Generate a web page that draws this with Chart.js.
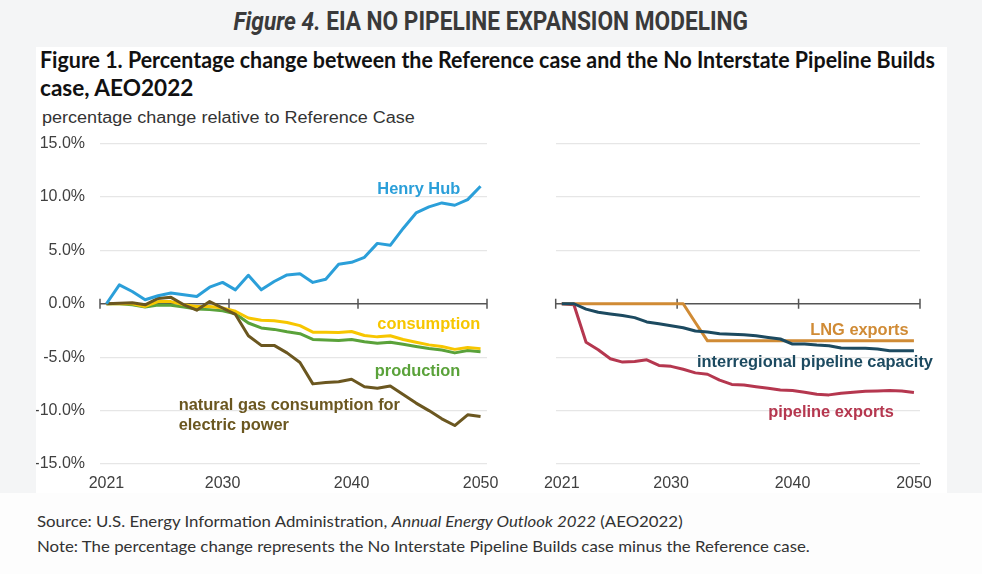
<!DOCTYPE html>
<html>
<head>
<meta charset="utf-8">
<script src="https://cdn.jsdelivr.net/npm/chart.js@4.4.1/dist/chart.umd.min.js"></script>
<style>
  body{margin:0;width:982px;height:574px;background:#f4f5f6;position:relative;overflow:hidden;font-family:"Liberation Sans",Arial,sans-serif;}
  .abs{position:absolute;white-space:nowrap;}
  .fit{display:inline-block;transform-origin:left center;}
  #panel{left:36px;top:47px;width:911px;height:446px;background:#fff;}
  #foot{left:0;top:493px;width:982px;height:81px;background:#fdfdfd;}
  #title{left:0;width:982px;top:8px;text-align:center;font:700 25px Roboto,sans-serif;color:#3a3a3a;line-height:28px;}
  #title .fit{transform-origin:center center;}
  #fig1{left:40px;top:46px;font:700 22px Lato,sans-serif;color:#111;line-height:28px;}
  #sub{left:42px;top:108px;font:16px "Liberation Sans",Arial,sans-serif;color:#333;line-height:20px;}
  #src{left:37px;top:511px;font:15px Lato,sans-serif;color:#333;line-height:20px;}
  #note{left:37px;top:536px;font:15px Lato,sans-serif;color:#333;line-height:20px;}
  canvas{position:absolute;}
</style>
</head>
<body>
<div class="abs" id="panel"></div>
<div class="abs" id="foot"></div>
<div class="abs" id="title"><span class="fit" data-fit="515"><i>Figure 4.</i> EIA NO PIPELINE EXPANSION MODELING</span></div>
<div class="abs" id="fig1"><span class="fit" data-fit="895">Figure 1. Percentage change between the Reference case and the No Interstate Pipeline Builds</span><br><span class="fit" data-fit="153">case, AEO2022</span></div>
<div class="abs" id="sub"><span class="fit" data-fit="373">percentage change relative to Reference Case</span></div>
<div class="abs" id="src"><span class="fit" data-fit="646">Source: U.S. Energy Information Administration, <i>Annual Energy Outlook 2022</i> (AEO2022)</span></div>
<div class="abs" id="note"><span class="fit" data-fit="773">Note: The percentage change represents the No Interstate Pipeline Builds case minus the Reference case.</span></div>
<canvas id="left" width="484" height="370" style="left:36px;top:130px"></canvas>
<canvas id="right" width="407" height="370" style="left:540px;top:130px"></canvas>
<script>
// ---- data (percent change vs Reference case) ----
const years = [2021,2022,2023,2024,2025,2026,2027,2028,2029,2030,
               2031,2032,2033,2034,2035,2036,2037,2038,2039,2040,
               2041,2042,2043,2044,2045,2046,2047,2048,2049,2050];
const xLabels = [2021, 2030, 2040, 2050];
const xTickMarks = [2020.5, 2030.5, 2040.5, 2050.5];
const yTicks = [-15, -10, -5, 0, 5, 10, 15];

const henryHub = [0.0,1.77,1.15,0.37,0.75,1.0,0.84,0.68,1.55,2.0,
                  1.3,2.67,1.3,2.08,2.7,2.8,2.0,2.3,3.7,3.88,
                  4.35,5.65,5.47,7.05,8.5,9.07,9.44,9.22,9.75,11.0];
const consumption = [0,0,0,-0.25,0.2,0.2,-0.1,-0.25,-0.25,-0.4,
                     -0.7,-1.33,-1.55,-1.6,-1.75,-2.05,-2.66,-2.66,-2.7,-2.6,
                     -2.97,-3.1,-3.0,-3.35,-3.6,-3.85,-4.0,-4.27,-4.1,-4.2];
const production = [0,0,-0.1,-0.3,-0.12,-0.15,-0.3,-0.5,-0.55,-0.65,
                    -0.93,-1.8,-2.26,-2.4,-2.63,-2.8,-3.34,-3.4,-3.44,-3.34,
                    -3.56,-3.7,-3.6,-3.8,-4.0,-4.18,-4.33,-4.6,-4.37,-4.5];
const electricPower = [0,0.05,0.1,-0.1,0.5,0.6,-0.1,-0.6,0.2,-0.4,
                       -1.0,-3.0,-3.9,-3.9,-4.6,-5.5,-7.5,-7.37,-7.3,-7.06,
                       -7.77,-7.9,-7.7,-8.5,-9.3,-10.0,-10.77,-11.4,-10.4,-10.56];

const lngExports = [0,0,0,0,0,0,0,0,0,0,
                    0,-1.75,-3.47,-3.47,-3.47,-3.47,-3.47,-3.47,-3.47,-3.47,
                    -3.47,-3.47,-3.47,-3.47,-3.47,-3.47,-3.47,-3.47,-3.47,-3.47];
const interregional = [0,0,-0.5,-0.8,-0.95,-1.1,-1.3,-1.7,-1.87,-2.05,
                       -2.24,-2.55,-2.64,-2.8,-2.85,-2.9,-3.0,-3.16,-3.3,-3.77,
                       -3.77,-3.87,-3.93,-4.14,-4.17,-4.17,-4.23,-4.4,-4.4,-4.4];
const pipelineExports = [0,-0.1,-3.6,-4.3,-5.15,-5.46,-5.4,-5.25,-5.77,-5.86,
                         -6.13,-6.47,-6.6,-7.15,-7.55,-7.6,-7.76,-7.9,-8.07,-8.13,
                         -8.28,-8.47,-8.53,-8.37,-8.28,-8.2,-8.16,-8.13,-8.16,-8.3];

const C = {
  henry:'#2b9fd9', cons:'#f7c600', prod:'#5aa23a', elec:'#6b5720',
  lng:'#d08b35', inter:'#1c4a60', pipe:'#b5374f'
};

function pts(arr){ return years.map((y,i)=>({x:y, y:arr[i]})); }
function line(label, arr, color){
  return { label, data: pts(arr), borderColor: color, borderWidth: 3,
           pointRadius: 0, tension: 0, borderJoinStyle: 'round', fill: false };
}

// zero line with tick marks at category boundaries
const zeroAxis = {
  id: 'zeroAxis',
  beforeDatasetsDraw(chart){
    const {ctx, chartArea:a, scales:{x, y}} = chart;
    const y0 = y.getPixelForValue(0);
    ctx.save();
    ctx.strokeStyle = '#555';
    ctx.lineWidth = 1.5;
    ctx.beginPath();
    ctx.moveTo(a.left, y0); ctx.lineTo(a.right, y0);
    xTickMarks.forEach(v=>{
      const px = x.getPixelForValue(v);
      ctx.moveTo(px, y0 - 5); ctx.lineTo(px, y0 + 5);
    });
    ctx.stroke();
    ctx.restore();
  }
};

// series names written next to the lines (anchored in data units)
const seriesLabels = {
  id: 'seriesLabels',
  afterDatasetsDraw(chart, args, opts){
    const {ctx, scales:{x, y}} = chart;
    ctx.save();
    ctx.font = 'bold 16.4px "Liberation Sans", Arial, sans-serif';
    ctx.textAlign = 'left';
    ctx.textBaseline = 'middle';
    (opts.items || []).forEach(it=>{
      ctx.fillStyle = it.color;
      ctx.fillText(it.text, x.getPixelForValue(it.x), y.getPixelForValue(it.y));
    });
    ctx.restore();
  }
};

function makeOptions(showY, yWidth, padRight, items){
  return {
    responsive: false,
    animation: false,
    layout: { padding: { top: 13.5, right: padRight, bottom: 0, left: 0 } },
    plugins: { legend: { display: false }, tooltip: { enabled: false }, seriesLabels: { items } },
    scales: {
      x: {
        type: 'linear', min: 2020.5, max: 2050.5,
        afterBuildTicks: s => { s.ticks = xLabels.map(v=>({value:v})); },
        afterFit: s => { s.height = 36; s.paddingLeft = 0; s.paddingRight = 0; },
        grid: { display: false, drawTicks: false },
        border: { display: false },
        ticks: { padding: 10, maxRotation: 0, autoSkip: false,
                 color: '#404040', font: { size: 16, family: '"Liberation Sans", Arial, sans-serif' },
                 callback: v => String(v) }
      },
      y: {
        min: -15, max: 15,
        afterBuildTicks: s => { s.ticks = yTicks.map(v=>({value:v})); },
        afterFit: s => { s.width = yWidth; s.paddingTop = 0; s.paddingBottom = 0; },
        grid: { color: c => c.tick && c.tick.value === 0 ? 'rgba(0,0,0,0)' : '#e6e6e6',
                lineWidth: 1.2, drawTicks: false },
        border: { display: false },
        ticks: { display: showY, padding: 15, color: '#404040',
                 font: { size: 16, family: '"Liberation Sans", Arial, sans-serif' },
                 callback: v => v.toFixed(1) + '%' }
      }
    }
  };
}

new Chart(document.getElementById('left'), {
  type: 'line',
  data: { datasets: [
    line('Henry Hub', henryHub, C.henry),
    line('natural gas consumption for electric power', electricPower, C.elec),
    line('consumption', consumption, C.cons),
    line('production', production, C.prod)
  ]},
  options: makeOptions(true, 64, 33, [
    { text: 'Henry Hub', x: 2042, y: 10.65, color: C.henry },
    { text: 'consumption', x: 2042, y: -1.96, color: C.cons },
    { text: 'production', x: 2041.8, y: -6.36, color: C.prod },
    { text: 'natural gas consumption for', x: 2026.6, y: -9.53, color: C.elec },
    { text: 'electric power', x: 2026.6, y: -11.4, color: C.elec }
  ]),
  plugins: [zeroAxis, seriesLabels]
});

new Chart(document.getElementById('right'), {
  type: 'line',
  data: { datasets: [
    line('interregional pipeline capacity', interregional, C.inter),
    line('LNG exports', lngExports, C.lng),
    line('pipeline exports', pipelineExports, C.pipe)
  ]},
  options: makeOptions(false, 15.7, 27, [
    { text: 'LNG exports', x: 2041.46, y: -2.52, color: C.lng },
    { text: 'interregional pipeline capacity', x: 2032.14, y: -5.51, color: C.inter },
    { text: 'pipeline exports', x: 2038.0, y: -10.19, color: C.pipe }
  ]),
  plugins: [zeroAxis, seriesLabels]
});

// squeeze the heading/footer text to the widths of the original typesetting
function fitText(){
  document.querySelectorAll('[data-fit]').forEach(el=>{
    el.style.transform = `scaleX(${(+el.dataset.fit) / el.offsetWidth})`;
  });
}
if (document.fonts && document.fonts.ready) document.fonts.ready.then(fitText); else fitText();
</script>
</body>
</html>
